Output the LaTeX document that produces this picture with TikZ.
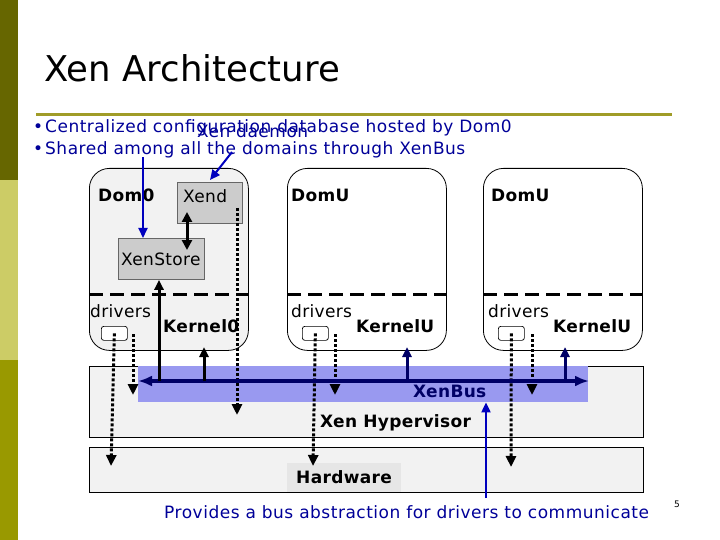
\documentclass[tikz,border=0pt]{standalone}
\usepackage{fontspec}
\setmainfont{DejaVu Sans}
\usetikzlibrary{arrows.meta}
\definecolor{oliveD}{RGB}{102,102,0}
\definecolor{oliveL}{RGB}{204,204,102}
\definecolor{oliveM}{RGB}{153,153,0}
\definecolor{rulec}{RGB}{160,156,40}
\definecolor{txtblue}{RGB}{0,0,153}
\definecolor{arrblue}{RGB}{0,0,190}
\definecolor{navy}{RGB}{0,0,102}
\definecolor{busfill}{RGB}{153,153,240}
\definecolor{panel}{RGB}{242,242,242}
\definecolor{boxgray}{RGB}{204,204,204}
\definecolor{hwlab}{RGB}{230,230,230}
\begin{document}
\begin{tikzpicture}[x=1pt,y=-1pt,
  lbl/.style={font=\fontsize{17}{20}\selectfont\addfontfeature{LetterSpace=2}, inner sep=0pt, anchor=base west},
  lblb/.style={font=\fontsize{17}{20}\selectfont\bfseries\addfontfeature{LetterSpace=2}, inner sep=0pt, anchor=base west},
  btxt/.style={font=\fontsize{17}{20}\selectfont\addfontfeature{LetterSpace=3}, text=txtblue, inner sep=0pt, anchor=base west},
  dombox/.style={draw=black, line width=0.8pt, rounded corners=20pt, anchor=north west, inner sep=0pt, minimum width=159pt, minimum height=182pt},
  grbox/.style={draw=black!60, fill=boxgray, line width=0.8pt, anchor=north west, inner sep=0pt},
  drvbox/.style={draw=black, fill=white, line width=0.7pt, rounded corners=2.5pt, anchor=north west, inner sep=0pt, minimum width=26pt, minimum height=14pt},
  layer/.style={draw=black, fill=panel, line width=0.8pt, anchor=north west, inner sep=0pt, minimum width=554pt},
  sepline/.style={line width=3pt, dash pattern=on 14pt off 7pt},
  dotarrow/.style={line width=3pt, dash pattern=on 3pt off 2pt, -{Triangle[length=11pt,width=10pt]}},
  blkarrow/.style={line width=3pt, -{Triangle[length=10pt,width=9pt]}},
  bluearrow/.style={line width=2pt, draw=arrblue, -{Triangle[length=10pt,width=9pt]}, arrblue},
]
\fill[white] (0,0) rectangle (720,540);
\useasboundingbox (0,0) rectangle (720,540);
% side bar
\fill[oliveD] (0,0) rectangle (18,180);
\fill[oliveL] (0,180) rectangle (18,360);
\fill[oliveM] (0,360) rectangle (18,540);
% title and rule
\node[anchor=base west, inner sep=0pt, font=\fontsize{35.5}{40}\selectfont] (title) at (44,82) {Xen Architecture};
\draw[rulec, line width=3pt] (36,115) -- (672,115);
% bullets
\node[btxt] (b1) at (33,133) {•};
\node[btxt] (t1) at (45,133) {Centralized configuration database hosted by Dom0};
\node[btxt] (b2) at (33,155) {•};
\node[btxt] (t2) at (45,155) {Shared among all the domains through XenBus};
\node[btxt] (daemon) at (197,138) {Xen daemon};

% layers
\node[layer, minimum height=71pt] (hyp) at (89,366) {};
\node[layer, minimum height=45pt] (hw) at (89,447) {};
\node[fill=hwlab, anchor=north west, inner sep=0pt, minimum width=114pt, minimum height=29pt] (hwlab) at (287,462.5) {};
\node[fill=busfill, anchor=north west, inner sep=0pt, minimum width=450pt, minimum height=36pt] (bus) at (138,366) {};

% domains
\node[dombox, fill=panel] (dom0) at (89,168) {};
\node[dombox, fill=white] (domu1) at (287,168) {};
\node[dombox, fill=white] (domu2) at (483,168) {};
\draw[sepline] (dom0.west |- 0,294) -- (dom0.east |- 0,294);
\draw[sepline] (domu1.west |- 0,294) -- (domu1.east |- 0,294);
\draw[sepline] (domu2.west |- 0,294) -- (domu2.east |- 0,294);

% Dom0 contents
\node[grbox, minimum width=65pt, minimum height=41pt] (xend) at (177,182) {};
\node[grbox, minimum width=86pt, minimum height=41pt] (xenstore) at (118,238) {};
\node[lbl] (xendlab) at (183,203) {Xend};
\node[lbl] (xslab) at (121,265) {XenStore};
\node[lblb] (dom0lab) at (98,202) {Dom0};
\node[lbl] (drv0lab) at (90,317) {drivers};
\node[lblb] (k0lab) at (163,332) {Kernel0};
\node[drvbox] (drv0) at (101,326) {};

% DomU contents
\node[lblb] (du1lab) at (291,202) {DomU};
\node[lbl] (drv1lab) at (291,317) {drivers};
\node[lblb] (k1lab) at (356,332) {KernelU};
\node[drvbox] (drv1) at (302,326) {};
\node[lblb] (du2lab) at (491,202) {DomU};
\node[lbl] (drv2lab) at (488,317) {drivers};
\node[lblb] (k2lab) at (553,332) {KernelU};
\node[drvbox] (drv2) at (498,326) {};

% layer labels
\node[lblb, text=navy] (buslab) at (413,397) {XenBus};
\node[lblb] (hyplab) at (320,427) {Xen Hypervisor};
\node[lblb] (hwlabt) at (296,483) {Hardware};

% coordinates
\coordinate (hwtip0) at (111,466);
\coordinate (hwtip1) at (313,466);
\coordinate (hwtip2) at (511,467);
\coordinate (bt0) at (133,395);
\coordinate (bt1) at (335,395);
\coordinate (bt2) at (532,395);
\coordinate (xendtop) at (237,208);
\coordinate (xendtip) at (237,415);
\coordinate (busL) at (138,381);
\coordinate (busR) at (589,381);
\coordinate (xsA) at (187,212);
\coordinate (xsB) at (187,250);

% dotted driver paths
\draw[dotarrow] (drv0.center) -- (hwtip0);
\draw[dotarrow] (133,334) -- (bt0);
\draw[dotarrow] (drv1.center) -- (hwtip1);
\draw[dotarrow] (335,334) -- (bt1);
\draw[dotarrow] (drv2.center) -- (hwtip2);
\draw[dotarrow] (532,334) -- (bt2);
\draw[dotarrow] (xendtop) -- (xendtip);

% xend <-> xenstore
\draw[line width=3pt, {Triangle[length=10pt,width=10pt]}-{Triangle[length=10pt,width=10pt]}] (xsA) -- (xsB);

% bus
\draw[navy, line width=4pt, {Latex[length=14pt,width=11pt]}-{Latex[length=14pt,width=11pt]}] (busL) -- (busR);
\draw[blkarrow] (159,381) -- (xenstore.south -| 159,0);
\draw[blkarrow] (204,381) -- (204,347);
\draw[blkarrow, navy] (407,381) -- (407,347);
\draw[blkarrow, navy] (565,381) -- (565,347);

% caption
\node[btxt] (cap) at (164,518) {Provides a bus abstraction for drivers to communicate};
\node[anchor=base west, inner sep=0pt, font=\fontsize{9}{10}\selectfont] (pg) at (674,507) {5};

% blue arrows
\coordinate (dA) at (232,152);
\coordinate (dB) at (210,180);
\draw[bluearrow] (dA) -- (dB);
\coordinate (sA) at (143,157);
\draw[bluearrow] (sA) -- (xenstore.north -| 143,0);
\coordinate (cA) at (486,498);
\draw[bluearrow] (cA) -- (bus.south -| 486,0);
\end{tikzpicture}
\end{document}
